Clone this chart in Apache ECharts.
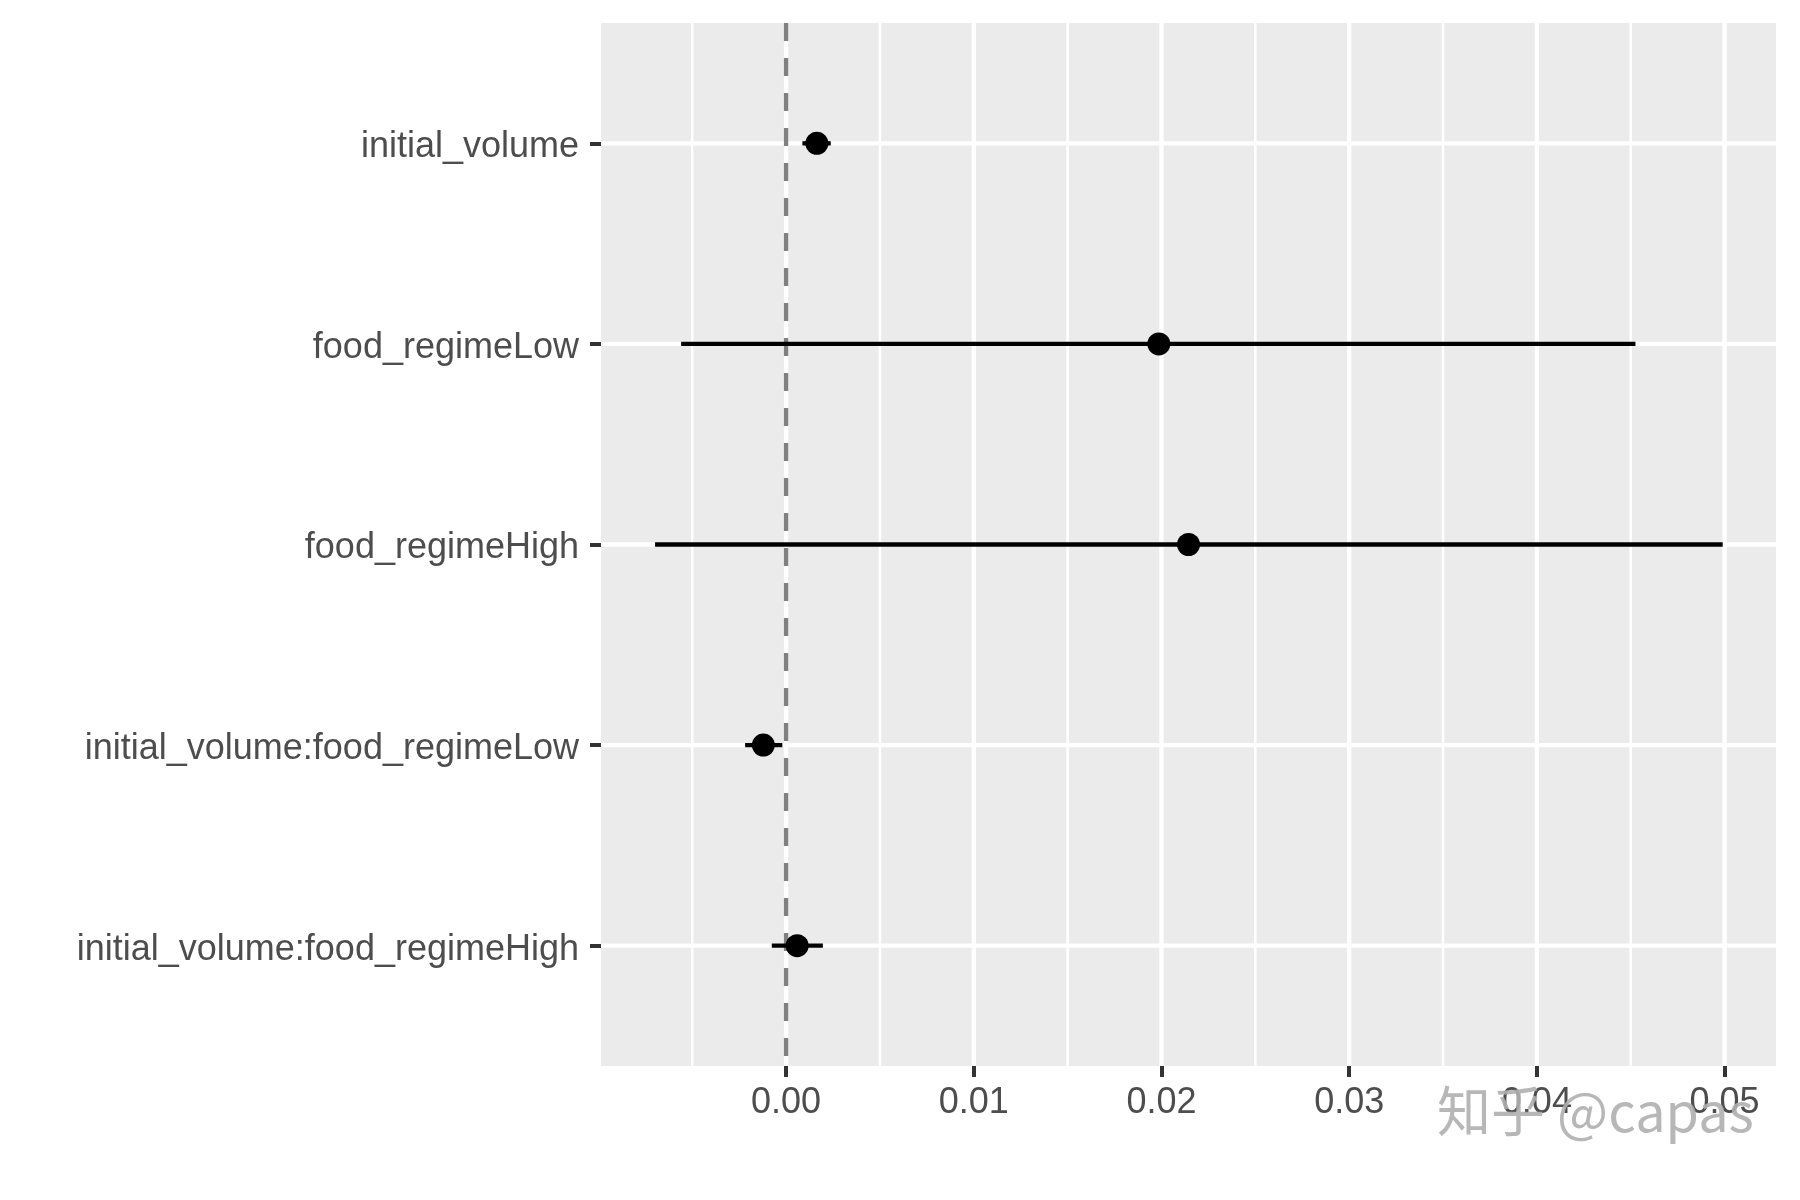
<!DOCTYPE html>
<html>
<head>
<meta charset="utf-8">
<script src="https://cdn.jsdelivr.net/npm/echarts@6/dist/echarts.min.js"></script>
<style>
html,body{margin:0;padding:0;background:#fff;}
#c{width:1800px;height:1200px;}
</style>
</head>
<body>
<div id="c"></div>
<script>
// Terms, bottom to top (positions 1..5)
const terms = ['initial_volume:food_regimeHigh', 'initial_volume:food_regimeLow', 'food_regimeHigh', 'food_regimeLow', 'initial_volume'];
const termPos = [1, 2, 3, 4, 5];
const estimate = [0.00059, -0.00121, 0.02144, 0.01986, 0.00164];
const lower = [-0.00076, -0.00218, -0.00698, -0.00559, 0.00087];
const upper = [0.00196, -0.00020, 0.04990, 0.04525, 0.00238];
const xTicks = [0, 0.01, 0.02, 0.03, 0.04, 0.05];
const xMinorGrid = [-0.005, 0.005, 0.015, 0.025, 0.035, 0.045];
const refValue = 0;

const FONT = '"Liberation Sans", Arial, sans-serif';
const chart = echarts.init(document.getElementById('c'), null, {renderer: 'canvas'});

function vLine(width, color, dash) {
  return function (params, api) {
    const cs = params.coordSys;
    const p = api.coord([api.value(0), 3]);
    return {
      type: 'line',
      shape: {x1: p[0], y1: cs.y, x2: p[0], y2: cs.y + cs.height},
      style: {stroke: color, lineWidth: width, lineDash: dash || null}
    };
  };
}
function hLine(width, color) {
  return function (params, api) {
    const cs = params.coordSys;
    const p = api.coord([0, api.value(0)]);
    return {
      type: 'line',
      shape: {x1: cs.x, y1: p[1], x2: cs.x + cs.width, y2: p[1]},
      style: {stroke: color, lineWidth: width}
    };
  };
}

const option = {
  backgroundColor: '#ffffff',
  animation: false,
  grid: {
    left: 601, top: 23, right: 24, bottom: 134,
    show: true, backgroundColor: '#ebebeb', borderWidth: 0
  },
  xAxis: {
    type: 'value',
    min: -0.00986, max: 0.05274,
    axisLine: {show: false, onZero: false},
    splitLine: {show: false},
    axisTick: {show: true, customValues: xTicks, length: 11, lineStyle: {color: '#333333', width: 4}},
    axisLabel: {
      customValues: xTicks,
      formatter: v => v.toFixed(2),
      color: '#4d4d4d', fontSize: 36, fontFamily: FONT, margin: 19
    }
  },
  yAxis: {
    type: 'value',
    min: 0.4, max: 5.6,
    axisLine: {show: false, onZero: false},
    splitLine: {show: false},
    axisTick: {show: true, customValues: termPos, length: 11, lineStyle: {color: '#333333', width: 4}},
    axisLabel: {
      customValues: termPos,
      formatter: v => '{t|' + terms[Math.round(v) - 1] + '}',
      color: '#4d4d4d', fontSize: 36, fontFamily: FONT, margin: 22,
      rich: {
        t: {color: '#4d4d4d', fontSize: 36, fontFamily: FONT, padding: [8, 0, 0, 0]}
      }
    }
  },
  series: [
    {
      type: 'custom', silent: true, z: 1,
      renderItem: vLine(2.5, '#ffffff'),
      data: xMinorGrid.map(v => [v])
    },
    {
      type: 'custom', silent: true, z: 1,
      renderItem: vLine(4.3, '#ffffff'),
      data: xTicks.map(v => [v])
    },
    {
      type: 'custom', silent: true, z: 1,
      renderItem: hLine(4.3, '#ffffff'),
      data: termPos.map(v => [v])
    },
    {
      type: 'custom', silent: true, z: 2,
      renderItem: vLine(4.3, '#808080', [18, 17]),
      data: [[refValue]]
    },
    {
      type: 'custom', silent: true, z: 3,
      renderItem: function (params, api) {
        const a = api.coord([api.value(0), api.value(2)]);
        const b = api.coord([api.value(1), api.value(2)]);
        return {
          type: 'line',
          shape: {x1: a[0], y1: a[1], x2: b[0], y2: b[1]},
          style: {stroke: '#000000', lineWidth: 4.3}
        };
      },
      encode: {x: [0, 1], y: 2},
      data: termPos.map((p, i) => [lower[i], upper[i], p])
    },
    {
      type: 'scatter', silent: true, z: 4,
      symbol: 'circle', symbolSize: 23,
      itemStyle: {color: '#000000', opacity: 1},
      data: termPos.map((p, i) => [estimate[i], p])
    }
  ],
  graphic: [
    {
      type: 'text', left: 1437, top: 1084, z: 100,
      style: {
        text: '知乎 @capas',
        font: '54px "Noto Sans CJK SC", sans-serif',
        fill: 'rgba(175,175,175,0.9)',
        shadowColor: 'rgba(255,255,255,0.95)', shadowBlur: 0, shadowOffsetX: -3, shadowOffsetY: -1
      }
    }
  ]
};
chart.setOption(option);
</script>
</body>
</html>
